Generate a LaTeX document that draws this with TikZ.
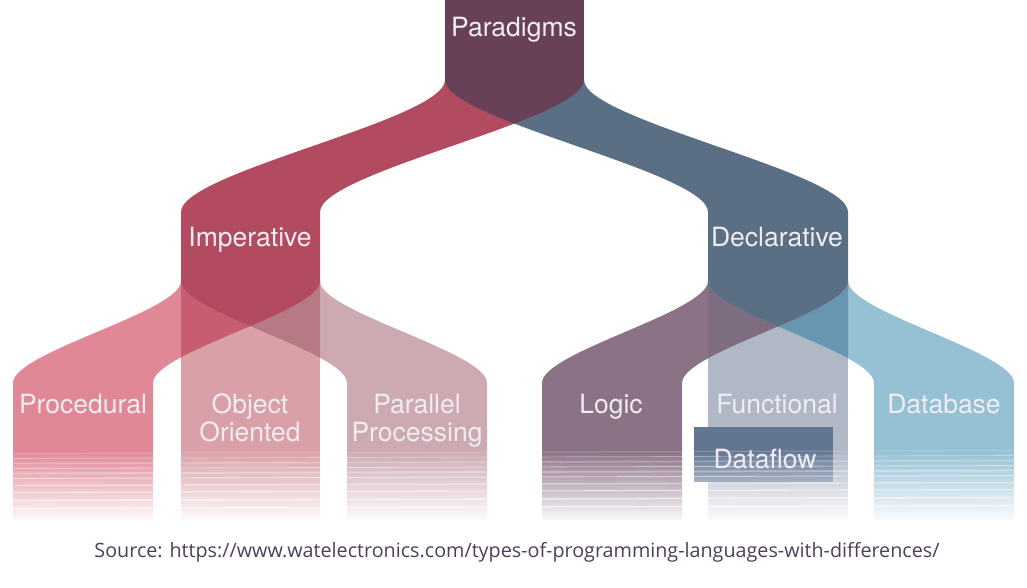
\documentclass[tikz,border=0pt]{standalone}
\usepackage{fontspec}
\setmainfont{TeX Gyre Heros}
\newfontfamily\srcfont{Open Sans}
\usetikzlibrary{fadings}

\definecolor{parcol}{RGB}{104,65,89}
\definecolor{impcol}{RGB}{178,75,95}
\definecolor{deccol}{RGB}{90,110,132}
\definecolor{proccol}{RGB}{224,136,150}
\definecolor{oocol}{RGB}{217,160,168}
\definecolor{parallelcol}{RGB}{205,170,178}
\definecolor{procoo}{RGB}{200,92,112}
\definecolor{paroo}{RGB}{182,122,132}
\definecolor{logiccol}{RGB}{139,114,134}
\definecolor{funccol}{RGB}{176,184,198}
\definecolor{dbcol}{RGB}{150,192,212}
\definecolor{logicfunc}{RGB}{126,108,128}
\definecolor{dbfunc}{RGB}{104,150,176}
\definecolor{flowcol}{RGB}{98,118,146}
\definecolor{lblcol}{RGB}{240,237,242}
\definecolor{srccol}{RGB}{78,62,92}

\tikzfading[name=fadedown, top color=transparent!100, middle color=transparent!45, bottom color=transparent!0]

\tikzset{
    lbl/.style={text=lblcol, anchor=base, align=center, font=\fontsize{26.5}{27.5}\selectfont},
}

% bands, in pixel units (y down)
\def\redband{(445,80) .. controls (445,120) and (181,172) .. (181,212) -- (181,283) -- (320,283) -- (320,212) .. controls (320,172) and (584,120) .. (584,80) -- cycle}
\def\blueband{(445,80) .. controls (445,120) and (708,172) .. (708,212) -- (708,283) -- (848,283) -- (848,212) .. controls (848,172) and (584,120) .. (584,80) -- cycle}
\def\procband{(181,281) .. controls (181,312) and (13,352) .. (13,383) -- (13,520) -- (153,520) -- (153,383) .. controls (153,352) and (320,312) .. (320,281) -- cycle}
\def\ooband{(181,281) rectangle (320,520)}
\def\parband{(181,281) .. controls (181,312) and (347,352) .. (347,383) -- (347,520) -- (487,520) -- (487,383) .. controls (487,352) and (320,312) .. (320,281) -- cycle}
\def\logicband{(708,281) .. controls (708,312) and (542,352) .. (542,383) -- (542,520) -- (682,520) -- (682,383) .. controls (682,352) and (848,312) .. (848,281) -- cycle}
\def\funcband{(708,281) rectangle (848,520)}
\def\dbband{(708,281) .. controls (708,312) and (874,352) .. (874,383) -- (874,520) -- (1014,520) -- (1014,383) .. controls (1014,352) and (848,312) .. (848,281) -- cycle}

\begin{document}
\begin{tikzpicture}[x=1pt, y=-1pt]
    \useasboundingbox (0,0) rectangle (1027,588);

    % lower left group
    \fill[proccol] \procband;
    \fill[parallelcol] \parband;
    \fill[oocol] \ooband;
    \begin{scope}
        \clip \ooband;
        \fill[procoo] \procband;
    \end{scope}
    \begin{scope}
        \clip \ooband;
        \fill[paroo] \parband;
    \end{scope}
    \begin{scope}
        \clip \procband;
        \fill[impcol] \parband;
    \end{scope}

    % lower right group
    \fill[logiccol] \logicband;
    \fill[dbcol] \dbband;
    \fill[funccol] \funcband;
    \begin{scope}
        \clip \funcband;
        \fill[logicfunc] \logicband;
    \end{scope}
    \begin{scope}
        \clip \funcband;
        \fill[dbfunc] \dbband;
    \end{scope}
    \begin{scope}
        \clip \logicband;
        \fill[deccol] \dbband;
    \end{scope}

    % top
    \fill[impcol] \redband;
    \fill[deccol] \blueband;
    \begin{scope}
        \clip \redband;
        \fill[parcol] \blueband;
    \end{scope}
    \fill[parcol] (445,0) rectangle (584,81);

    \fill[flowcol] (694,427) rectangle (833,482);

    % brushed fade at the bottom
    \fill[white, path fading=fadedown] (0,450) rectangle (1027,523);
    \foreach \yy/\op/\lw in {452/0.2/1.0, 457/0.35/0.7, 462/0.25/1.4, 467/0.45/0.8, 472/0.3/1.8, 477/0.5/0.9, 484/0.4/1.4, 491/0.6/1.1, 499/0.5/1.8, 507/0.7/1.2}
        \draw[white, opacity=\op, line width=\lw pt] (0,\yy+1.5) -- (1027,\yy-1.5);

    \node[lbl] (paradigms) at (514,37) {Paradigms};
    \node[lbl] (imperative) at (250,246) {Imperative};
    \node[lbl] (declarative) at (777,246) {Declarative};
    \node[lbl] (procedural) at (83,413) {Procedural};
    \node[lbl] (objectoriented) at (250,441) {Object\\Oriented};
    \node[lbl] (parallel) at (417,441) {Parallel\\Processing};
    \node[lbl] (logic) at (611,413) {Logic};
    \node[lbl] (functional) at (777,413) {Functional};
    \node[lbl] (database) at (944,413) {Database};
    \node[lbl] (dataflow) at (765,468) {Dataflow};

    \node[text=srccol, anchor=base] (source) at (517,557)
        {\resizebox{845pt}{!}{\srcfont Source: https://www.watelectronics.com/types-of-programming-languages-with-differences/}};
\end{tikzpicture}
\end{document}
